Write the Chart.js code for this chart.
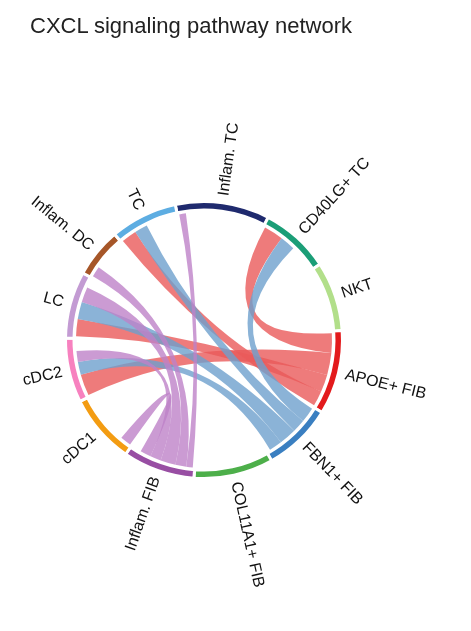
<!DOCTYPE html>
<html><head><meta charset="utf-8">
<script src="https://cdn.jsdelivr.net/npm/chart.js@4"></script>
<style>body{margin:0;background:#fff}#t{position:absolute;left:30px;top:13px;font:22px "Liberation Sans",Arial,sans-serif;color:#222}</style>
</head><body>
<div id="t">CXCL signaling pathway network</div>
<canvas id="c" width="471" height="631"></canvas>
<script>
const categories=["Inflam. TC","CD40LG+ TC","NKT","APOE+ FIB","FBN1+ FIB","COL11A1+ FIB","Inflam. FIB","cDC1","cDC2","LC","Inflam. DC","TC"];
const sizes=[38,28,28,34,28,32,29,28,26,27,20,27];
const colors=["#1f2a6e","#1b9e77","#b2df8a","#e31a1c","#3a7fc1","#4daf4a","#984ea3","#f39c12","#f781bf","#c39bd3","#a65628","#5dade2"];
const linkSource=["APOE+ FIB","APOE+ FIB","APOE+ FIB","APOE+ FIB","FBN1+ FIB","FBN1+ FIB","FBN1+ FIB","FBN1+ FIB","Inflam. FIB","Inflam. FIB","Inflam. FIB","Inflam. FIB","Inflam. FIB"];
const linkTarget=["CD40LG+ TC","cDC2","LC","TC","CD40LG+ TC","TC","LC","cDC2","Inflam. TC","Inflam. DC","LC","cDC2","cDC1"];
const linkWeight=[9,10,8,7,7,6,8,6,3,5,7,5,5];
const linkColor={"APOE+ FIB":"rgba(234,90,90,0.8)","FBN1+ FIB":"rgba(110,160,205,0.8)","Inflam. FIB":"rgba(190,130,200,0.8)"};

const chordPlugin={id:'chord',afterDatasetsDraw(chart){
  const ctx=chart.ctx,arcs=chart.getDatasetMeta(0).data;
  const cx=arcs[0].x,cy=arcs[0].y,r=arcs[0].innerRadius-2,outer=arcs[0].outerRadius;
  const used=categories.map(()=>0);
  const take=(i,w)=>{const a=arcs[i],k=(a.endAngle-a.startAngle-0.03)/sizes[i];const s=a.startAngle+0.015+used[i]*k;used[i]+=w;return [s,s+w*k];};
  const segs=[];
  linkSource.forEach((s,j)=>{segs.push({c:linkColor[s],a:take(categories.indexOf(s),linkWeight[j])});});
  linkTarget.forEach((t,j)=>{segs[j].b=take(categories.indexOf(t),linkWeight[j]);});
  ctx.save();
  segs.forEach(g=>{ctx.beginPath();ctx.arc(cx,cy,r,g.a[0],g.a[1]);
    ctx.quadraticCurveTo(cx,cy,cx+r*Math.cos(g.b[0]),cy+r*Math.sin(g.b[0]));
    ctx.arc(cx,cy,r,g.b[0],g.b[1]);
    ctx.quadraticCurveTo(cx,cy,cx+r*Math.cos(g.a[0]),cy+r*Math.sin(g.a[0]));
    ctx.closePath();ctx.fillStyle=g.c;ctx.fill();});
  ctx.font='16px "Liberation Sans",Arial,sans-serif';ctx.fillStyle='#111';ctx.textBaseline='middle';
  arcs.forEach((a,i)=>{const m=(a.startAngle+a.endAngle)/2;let x=cx+(outer+7)*Math.cos(m),y=cy+(outer+7)*Math.sin(m);
    ctx.save();ctx.translate(x,y);const c=Math.cos(m);
    if(c>=-0.05){ctx.rotate(m);ctx.textAlign='left';}else{ctx.rotate(m+Math.PI);ctx.textAlign='right';}
    ctx.fillText(categories[i],0,0);ctx.restore();});
  ctx.restore();}};

new Chart(document.getElementById('c'),{type:'doughnut',
 data:{labels:categories,datasets:[{data:sizes,backgroundColor:colors,borderColor:'#fff',borderWidth:3}]},
 options:{responsive:false,animation:false,rotation:-12,cutout:130,
  layout:{padding:{left:64,right:127,top:200,bottom:151}},
  plugins:{legend:{display:false},tooltip:{enabled:false}}},
 plugins:[chordPlugin]});
</script></body></html>
